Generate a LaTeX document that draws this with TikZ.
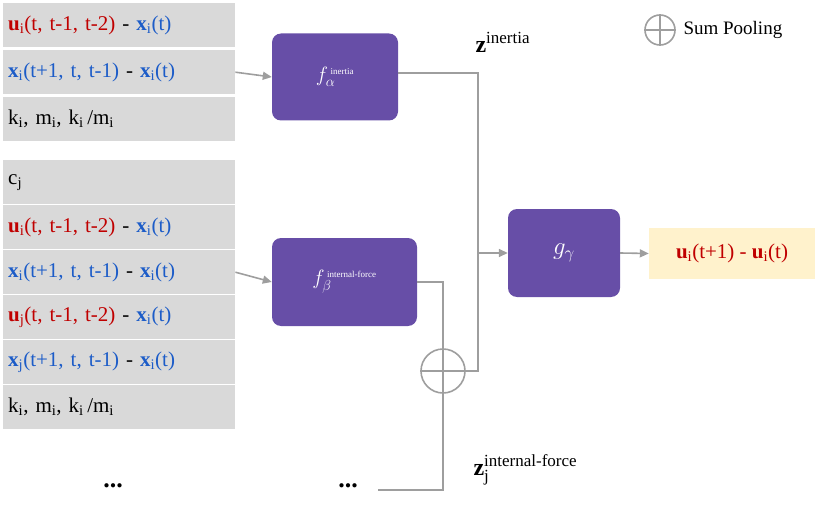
\documentclass[tikz,border=0pt]{standalone}
\usepackage{amsmath}
\usepackage{fontspec}
\setmainfont{Liberation Serif}
\usetikzlibrary{arrows.meta}
\definecolor{pur}{HTML}{674EA7}
\definecolor{rd}{HTML}{C00000}
\definecolor{bl}{HTML}{1C5CC8}
\definecolor{ln}{HTML}{9E9E9E}
\definecolor{cell}{HTML}{D9D9D9}
\definecolor{yel}{HTML}{FFF2CC}
\newcommand{\U}[1]{\textcolor{rd}{\textbf{u}\textsubscript{#1}}}
\newcommand{\X}[1]{\textcolor{bl}{\textbf{x}\textsubscript{#1}}}
\newcommand{\R}[1]{\textcolor{rd}{#1}}
\newcommand{\B}[1]{\textcolor{bl}{#1}}
\begin{document}
\begin{tikzpicture}[x=1pt,y=-1pt,
  row/.style={fill=cell,minimum width=232pt,minimum height=44pt,anchor=north west,inner sep=0pt,text width=222pt,align=left,font=\fontsize{21}{24}\selectfont},
  blk/.style={fill=pur,rounded corners=9pt,text=white,inner sep=0pt},
  con/.style={draw=ln,line width=1.6pt},
  arr/.style={con,-{Triangle[length=9pt,width=8pt]}}]
\useasboundingbox (0,0) rectangle (825,516);
\node[row] (r1) at (3,3) {\U{i}\R{(t, t-1, t-2)} - \X{i}\B{(t)}};
\node[row] (r2) at (3,50) {\X{i}\B{(t+1, t, t-1)} - \X{i}\B{(t)}};
\node[row] (r3) at (3,97) {k\textsubscript{i}, m\textsubscript{i}, k\textsubscript{i}\,/m\textsubscript{i}};
\node[row] (s1) at (3,160) {c\textsubscript{j}};
\node[row] (s2) at (3,205) {\U{i}\R{(t, t-1, t-2)} - \X{i}\B{(t)}};
\node[row] (s3) at (3,250) {\X{i}\B{(t+1, t, t-1)} - \X{i}\B{(t)}};
\node[row] (s4) at (3,295) {\U{j}\R{(t, t-1, t-2)} - \X{i}\B{(t)}};
\node[row] (s5) at (3,340) {\X{j}\B{(t+1, t, t-1)} - \X{i}\B{(t)}};
\node[row] (s6) at (3,385) {k\textsubscript{i}, m\textsubscript{i}, k\textsubscript{i}\,/m\textsubscript{i}};
\node[blk,minimum width=126pt,minimum height=87pt] (fa) at (335,77) {\fontsize{22}{24}\selectfont$f_\alpha^{\,\text{\small inertia}}$};
\node[blk,minimum width=145pt,minimum height=88pt] (fb) at (344.5,282) {\fontsize{22}{24}\selectfont$f_\beta^{\,\text{\small internal-force}}$};
\node[blk,minimum width=112pt,minimum height=88pt] (g) at (564,253) {\fontsize{24}{26}\selectfont$g_\gamma$};
\node[fill=yel,minimum width=166pt,minimum height=51pt,inner sep=0pt,font=\fontsize{21}{24}\selectfont] (out) at (732,253.5) {\U{i}\R{(t+1) - }\U{i}\R{(t)}};
\node[circle,draw=ln,line width=1.6pt,minimum size=44pt,inner sep=0pt] (sum) at (443,371) {};
\draw[con] (sum.north)--(sum.south) (sum.west)--(sum.east);
\node[circle,draw=ln,line width=1.6pt,minimum size=30pt,inner sep=0pt] (leg) at (660,30) {};
\draw[con] (leg.north)--(leg.south) (leg.west)--(leg.east);
\node[anchor=west,font=\fontsize{19}{22}\selectfont] (legt) at (680,30) {Sum Pooling};
\node[anchor=west,font=\fontsize{24}{26}\selectfont] (zi) at (472,42) {\textbf{z}\textsuperscript{\fontsize{17}{20}\selectfont inertia}};
\node[anchor=west,font=\fontsize{24}{26}\selectfont] (zf) at (470,470) {\textbf{z}$_{\text{\fontsize{17}{20}\selectfont j}}^{\text{\fontsize{17}{20}\selectfont internal-force}}$};
\node[font=\fontsize{26}{26}\selectfont\bfseries] (d1) at (113,486) {...};
\node[font=\fontsize{26}{26}\selectfont\bfseries] (d2) at (348,486) {...};
\coordinate (j1) at (478,73);
\coordinate (j2) at (478,371);
\coordinate (j3) at (478,253);
\coordinate (k1) at (443,282);
\coordinate (k2) at (443,490);
\draw[arr] (r2.east) -- (fa.west);
\draw[arr] (s3.east) -- (fb.west);
\draw[con] (fa.east|-j1) -- (j1) -- (j2) -- (sum.east);
\draw[arr] (j3) -- (g.west);
\draw[arr] (g.east) -- (out.west);
\draw[con] (fb.east|-k1) -- (k1) -- (sum.north);
\draw[con] (sum.south) -- (k2) -- (378,490);
\end{tikzpicture}
\end{document}
